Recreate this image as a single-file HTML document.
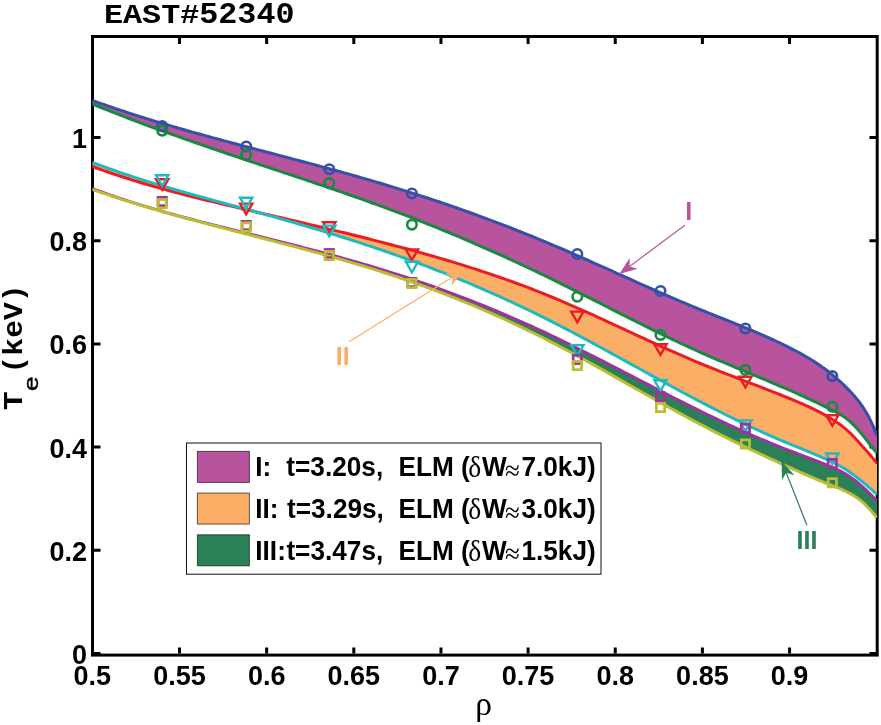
<!DOCTYPE html>
<html><head><meta charset="utf-8"><title>EAST#52340 Te profiles</title><style>html,body{margin:0;padding:0;background:#fff;overflow:hidden}svg{display:block}</style></head><body>
<svg width="881" height="725" viewBox="0 0 881 725">
<rect width="881" height="725" fill="#fff"/>
<path d="M179.50,35 V44 M179.50,653.6 V647.4 M266.65,35 V44 M266.65,653.6 V647.4 M353.80,35 V44 M353.80,653.6 V647.4 M440.95,35 V44 M440.95,653.6 V647.4 M528.10,35 V44 M528.10,653.6 V647.4 M615.25,35 V44 M615.25,653.6 V647.4 M702.40,35 V44 M702.40,653.6 V647.4 M789.55,35 V44 M789.55,653.6 V647.4 M91,653.60 H100.5 M878,653.60 H869.5 M91,550.36 H100.5 M878,550.36 H869.5 M91,447.12 H100.5 M878,447.12 H869.5 M91,343.88 H100.5 M878,343.88 H869.5 M91,240.64 H100.5 M878,240.64 H869.5 M91,137.40 H100.5 M878,137.40 H869.5" stroke="#000" stroke-width="3" fill="none"/>
<rect x="92.5" y="36.5" width="784.7" height="618.6" fill="none" stroke="#000" stroke-width="3"/>
<defs><clipPath id="ax"><rect x="92.35" y="30" width="785.0" height="630"/></clipPath></defs>
<g clip-path="url(#ax)">
<polygon points="92.35,100.42 96.35,101.86 100.35,103.29 104.35,104.71 108.35,106.10 112.35,107.48 116.35,108.84 120.35,110.18 124.35,111.51 128.35,112.82 132.35,114.11 136.35,115.40 140.35,116.67 144.35,117.92 148.35,119.16 152.35,120.39 156.35,121.60 160.35,122.81 164.35,124.00 168.35,125.18 172.35,126.35 176.35,127.52 180.35,128.67 184.35,129.81 188.35,130.94 192.35,132.07 196.35,133.19 200.35,134.30 204.35,135.40 208.35,136.50 212.35,137.59 216.35,138.67 220.35,139.75 224.35,140.83 228.35,141.90 232.35,142.97 236.35,144.04 240.35,145.10 244.35,146.16 248.35,147.21 252.35,148.27 256.35,149.33 260.35,150.38 264.35,151.44 268.35,152.49 272.35,153.54 276.35,154.60 280.35,155.65 284.35,156.71 288.35,157.77 292.35,158.83 296.35,159.89 300.35,160.96 304.35,162.03 308.35,163.10 312.35,164.17 316.35,165.25 320.35,166.33 324.35,167.42 328.35,168.51 332.35,169.61 336.35,170.71 340.35,171.82 344.35,172.93 348.35,174.05 352.35,175.18 356.35,176.31 360.35,177.46 364.35,178.60 368.35,179.76 372.35,180.93 376.35,182.10 380.35,183.29 384.35,184.48 388.35,185.68 392.35,186.89 396.35,188.12 400.35,189.35 404.35,190.59 408.35,191.85 412.35,193.11 416.35,194.39 420.35,195.68 424.35,196.98 428.35,198.29 432.35,199.61 436.35,200.95 440.35,202.29 444.35,203.65 448.35,205.02 452.35,206.40 456.35,207.79 460.35,209.19 464.35,210.61 468.35,212.03 472.35,213.47 476.35,214.92 480.35,216.38 484.35,217.86 488.35,219.34 492.35,220.84 496.35,222.35 500.35,223.88 504.35,225.41 508.35,226.96 512.35,228.52 516.35,230.10 520.35,231.68 524.35,233.28 528.35,234.89 532.35,236.51 536.35,238.15 540.35,239.80 544.35,241.46 548.35,243.14 552.35,244.83 556.35,246.53 560.35,248.24 564.35,249.96 568.35,251.70 572.35,253.44 576.35,255.19 580.35,256.95 584.35,258.72 588.35,260.49 592.35,262.27 596.35,264.06 600.35,265.84 604.35,267.64 608.35,269.43 612.35,271.23 616.35,273.02 620.35,274.82 624.35,276.62 628.35,278.41 632.35,280.21 636.35,282.00 640.35,283.78 644.35,285.57 648.35,287.34 652.35,289.12 656.35,290.88 660.35,292.64 664.35,294.39 668.35,296.13 672.35,297.86 676.35,299.58 680.35,301.28 684.35,302.98 688.35,304.66 692.35,306.33 696.35,307.99 700.35,309.63 704.35,311.25 708.35,312.87 712.35,314.47 716.35,316.06 720.35,317.66 724.35,319.25 728.35,320.84 732.35,322.44 736.35,324.05 740.35,325.67 744.35,327.30 748.35,328.95 752.35,330.62 756.35,332.32 760.35,334.04 764.35,335.79 768.35,337.57 772.35,339.39 776.35,341.24 780.35,343.14 784.35,345.08 788.35,347.07 792.35,349.11 796.35,351.21 800.00,353.18 801.00,353.74 802.00,354.29 803.00,354.86 804.00,355.43 805.00,356.00 806.00,356.58 807.00,357.17 808.00,357.77 809.00,358.37 810.00,358.98 811.00,359.59 812.00,360.21 813.00,360.84 814.00,361.48 815.00,362.13 816.00,362.78 817.00,363.44 818.00,364.11 819.00,364.79 820.00,365.48 821.00,366.18 822.00,366.88 823.00,367.60 824.00,368.32 825.00,369.06 826.00,369.80 827.00,370.56 828.00,371.32 829.00,372.10 830.00,372.89 831.00,373.68 832.00,374.49 833.00,375.31 834.00,376.15 835.00,376.99 836.00,377.84 837.00,378.71 838.00,379.59 839.00,380.49 840.00,381.39 841.00,382.31 842.00,383.24 843.00,384.19 844.00,385.15 845.00,386.12 846.00,387.11 847.00,388.11 848.00,389.13 849.00,390.16 850.00,391.21 851.00,392.27 852.00,393.35 853.00,394.45 854.00,395.57 855.00,396.73 856.00,397.91 857.00,399.13 858.00,400.38 859.00,401.67 860.00,403.01 861.00,404.39 862.00,405.82 863.00,407.30 864.00,408.84 865.00,410.43 866.00,412.09 867.00,413.81 868.00,415.60 869.00,417.47 870.00,419.41 871.00,421.45 872.00,423.58 873.00,425.80 874.00,428.13 875.00,430.57 876.00,433.13 877.00,435.80 877.00,452.88 876.00,451.79 875.00,450.66 874.00,449.48 873.00,448.28 872.00,447.04 871.00,445.79 870.00,444.52 869.00,443.23 868.00,441.95 867.00,440.66 866.00,439.38 865.00,438.11 864.00,436.85 863.00,435.61 862.00,434.39 861.00,433.18 860.00,431.99 859.00,430.83 858.00,429.69 857.00,428.57 856.00,427.48 855.00,426.41 854.00,425.38 853.00,424.38 852.00,423.40 851.00,422.47 850.00,421.57 849.00,420.70 848.00,419.87 847.00,419.08 846.00,418.31 845.00,417.58 844.00,416.88 843.00,416.20 842.00,415.54 841.00,414.91 840.00,414.30 839.00,413.71 838.00,413.14 837.00,412.58 836.00,412.04 835.00,411.51 834.00,410.99 833.00,410.48 832.00,409.98 831.00,409.48 830.00,408.99 829.00,408.49 828.00,408.00 827.00,407.51 826.00,407.03 825.00,406.54 824.00,406.06 823.00,405.57 822.00,405.09 821.00,404.61 820.00,404.13 819.00,403.66 818.00,403.18 817.00,402.71 816.00,402.24 815.00,401.77 814.00,401.30 813.00,400.83 812.00,400.37 811.00,399.90 810.00,399.44 809.00,398.98 808.00,398.52 807.00,398.06 806.00,397.60 805.00,397.14 804.00,396.69 803.00,396.23 802.00,395.78 801.00,395.33 800.00,394.88 796.35,393.25 792.35,391.47 788.35,389.72 784.35,387.98 780.35,386.26 776.35,384.55 772.35,382.85 768.35,381.16 764.35,379.47 760.35,377.80 756.35,376.13 752.35,374.46 748.35,372.79 744.35,371.12 740.35,369.46 736.35,367.78 732.35,366.10 728.35,364.42 724.35,362.73 720.35,361.02 716.35,359.31 712.35,357.58 708.35,355.84 704.35,354.07 700.35,352.30 696.35,350.50 692.35,348.68 688.35,346.84 684.35,344.99 680.35,343.12 676.35,341.23 672.35,339.33 668.35,337.41 664.35,335.48 660.35,333.54 656.35,331.58 652.35,329.62 648.35,327.64 644.35,325.66 640.35,323.67 636.35,321.67 632.35,319.66 628.35,317.65 624.35,315.63 620.35,313.61 616.35,311.58 612.35,309.55 608.35,307.52 604.35,305.49 600.35,303.46 596.35,301.43 592.35,299.40 588.35,297.38 584.35,295.36 580.35,293.34 576.35,291.33 572.35,289.32 568.35,287.32 564.35,285.33 560.35,283.35 556.35,281.37 552.35,279.41 548.35,277.46 544.35,275.52 540.35,273.59 536.35,271.67 532.35,269.76 528.35,267.87 524.35,265.99 520.35,264.11 516.35,262.25 512.35,260.40 508.35,258.57 504.35,256.74 500.35,254.93 496.35,253.13 492.35,251.34 488.35,249.56 484.35,247.79 480.35,246.03 476.35,244.29 472.35,242.56 468.35,240.84 464.35,239.13 460.35,237.43 456.35,235.74 452.35,234.07 448.35,232.40 444.35,230.75 440.35,229.11 436.35,227.48 432.35,225.87 428.35,224.26 424.35,222.67 420.35,221.09 416.35,219.52 412.35,217.96 408.35,216.41 404.35,214.87 400.35,213.35 396.35,211.84 392.35,210.34 388.35,208.85 384.35,207.37 380.35,205.90 376.35,204.44 372.35,202.99 368.35,201.55 364.35,200.11 360.35,198.69 356.35,197.27 352.35,195.86 348.35,194.46 344.35,193.07 340.35,191.68 336.35,190.30 332.35,188.92 328.35,187.55 324.35,186.19 320.35,184.83 316.35,183.47 312.35,182.12 308.35,180.77 304.35,179.42 300.35,178.08 296.35,176.74 292.35,175.40 288.35,174.06 284.35,172.73 280.35,171.40 276.35,170.06 272.35,168.73 268.35,167.40 264.35,166.06 260.35,164.73 256.35,163.39 252.35,162.06 248.35,160.72 244.35,159.38 240.35,158.03 236.35,156.69 232.35,155.34 228.35,153.98 224.35,152.63 220.35,151.27 216.35,149.90 212.35,148.53 208.35,147.16 204.35,145.78 200.35,144.40 196.35,143.01 192.35,141.61 188.35,140.21 184.35,138.80 180.35,137.39 176.35,135.96 172.35,134.53 168.35,133.10 164.35,131.65 160.35,130.20 156.35,128.74 152.35,127.27 148.35,125.79 144.35,124.30 140.35,122.80 136.35,121.30 132.35,119.78 128.35,118.25 124.35,116.71 120.35,115.16 116.35,113.60 112.35,112.03 108.35,110.44 104.35,108.85 100.35,107.24 96.35,105.62 92.35,103.98" fill="#B8549E" stroke="none"/>
<polygon points="92.35,166.50 96.35,167.97 100.35,169.41 104.35,170.82 108.35,172.21 112.35,173.58 116.35,174.92 120.35,176.24 124.35,177.53 128.35,178.80 132.35,180.06 136.35,181.29 140.35,182.50 144.35,183.69 148.35,184.86 152.35,186.01 156.35,187.15 160.35,188.27 164.35,189.38 168.35,190.47 172.35,191.54 176.35,192.60 180.35,193.65 184.35,194.69 188.35,195.71 192.35,196.73 196.35,197.73 200.35,198.72 204.35,199.71 208.35,200.68 212.35,201.65 216.35,202.61 220.35,203.57 224.35,204.52 228.35,205.46 232.35,206.40 236.35,207.34 240.35,208.27 244.35,209.20 248.35,210.14 252.35,211.07 256.35,211.99 260.35,212.92 264.35,213.85 268.35,214.78 272.35,215.71 276.35,216.65 280.35,217.58 284.35,218.51 288.35,219.45 292.35,220.38 296.35,221.32 300.35,222.26 304.35,223.21 308.35,224.15 312.35,225.10 316.35,226.05 320.35,227.01 324.35,227.97 328.35,228.93 332.35,229.90 336.35,230.87 340.35,231.84 344.35,232.82 348.35,233.81 352.35,234.80 356.35,235.79 360.35,236.79 364.35,237.80 368.35,238.81 372.35,239.83 376.35,240.86 380.35,241.89 384.35,242.93 388.35,243.97 392.35,245.02 396.35,246.09 400.35,247.15 404.35,248.23 408.35,249.32 412.35,250.41 416.35,251.51 420.35,252.63 424.35,253.75 428.35,254.88 432.35,256.03 436.35,257.18 440.35,258.35 444.35,259.53 448.35,260.72 452.35,261.92 456.35,263.14 460.35,264.37 464.35,265.61 468.35,266.87 472.35,268.14 476.35,269.43 480.35,270.73 484.35,272.05 488.35,273.39 492.35,274.74 496.35,276.11 500.35,277.49 504.35,278.90 508.35,280.32 512.35,281.76 516.35,283.22 520.35,284.69 524.35,286.19 528.35,287.71 532.35,289.25 536.35,290.81 540.35,292.39 544.35,293.99 548.35,295.61 552.35,297.26 556.35,298.92 560.35,300.61 564.35,302.32 568.35,304.05 572.35,305.79 576.35,307.55 580.35,309.32 584.35,311.11 588.35,312.91 592.35,314.72 596.35,316.54 600.35,318.37 604.35,320.20 608.35,322.05 612.35,323.89 616.35,325.75 620.35,327.60 624.35,329.46 628.35,331.32 632.35,333.17 636.35,335.03 640.35,336.88 644.35,338.73 648.35,340.57 652.35,342.41 656.35,344.23 660.35,346.05 664.35,347.86 668.35,349.66 672.35,351.45 676.35,353.22 680.35,354.97 684.35,356.71 688.35,358.44 692.35,360.14 696.35,361.83 700.35,363.49 704.35,365.14 708.35,366.76 712.35,368.37 716.35,369.96 720.35,371.53 724.35,373.10 728.35,374.65 732.35,376.19 736.35,377.73 740.35,379.27 744.35,380.80 748.35,382.33 752.35,383.86 756.35,385.39 760.35,386.93 764.35,388.48 768.35,390.03 772.35,391.59 776.35,393.17 780.35,394.76 784.35,396.37 788.35,397.99 792.35,399.64 796.35,401.31 800.00,402.87 801.00,403.30 802.00,403.74 803.00,404.18 804.00,404.62 805.00,405.07 806.00,405.52 807.00,405.98 808.00,406.44 809.00,406.90 810.00,407.37 811.00,407.84 812.00,408.32 813.00,408.81 814.00,409.29 815.00,409.79 816.00,410.29 817.00,410.79 818.00,411.31 819.00,411.82 820.00,412.35 821.00,412.88 822.00,413.42 823.00,413.96 824.00,414.51 825.00,415.07 826.00,415.63 827.00,416.21 828.00,416.79 829.00,417.38 830.00,417.97 831.00,418.58 832.00,419.19 833.00,419.82 834.00,420.45 835.00,421.10 836.00,421.76 837.00,422.44 838.00,423.13 839.00,423.83 840.00,424.56 841.00,425.30 842.00,426.06 843.00,426.84 844.00,427.64 845.00,428.46 846.00,429.31 847.00,430.18 848.00,431.08 849.00,432.00 850.00,432.94 851.00,433.92 852.00,434.92 853.00,435.95 854.00,436.99 855.00,438.05 856.00,439.14 857.00,440.23 858.00,441.34 859.00,442.45 860.00,443.58 861.00,444.70 862.00,445.84 863.00,446.97 864.00,448.10 865.00,449.22 866.00,450.34 867.00,451.46 868.00,452.57 869.00,453.68 870.00,454.81 871.00,455.96 872.00,457.14 873.00,458.35 874.00,459.59 875.00,460.89 876.00,462.24 877.00,463.66 877.00,494.80 876.00,493.77 875.00,492.78 874.00,491.82 873.00,490.88 872.00,489.97 871.00,489.07 870.00,488.20 869.00,487.33 868.00,486.48 867.00,485.64 866.00,484.80 865.00,483.96 864.00,483.13 863.00,482.29 862.00,481.47 861.00,480.64 860.00,479.83 859.00,479.02 858.00,478.22 857.00,477.43 856.00,476.65 855.00,475.88 854.00,475.12 853.00,474.37 852.00,473.64 851.00,472.93 850.00,472.23 849.00,471.54 848.00,470.88 847.00,470.23 846.00,469.59 845.00,468.97 844.00,468.36 843.00,467.77 842.00,467.19 841.00,466.62 840.00,466.06 839.00,465.52 838.00,464.98 837.00,464.46 836.00,463.94 835.00,463.43 834.00,462.93 833.00,462.43 832.00,461.95 831.00,461.46 830.00,460.99 829.00,460.52 828.00,460.05 827.00,459.59 826.00,459.13 825.00,458.67 824.00,458.22 823.00,457.78 822.00,457.33 821.00,456.89 820.00,456.46 819.00,456.02 818.00,455.59 817.00,455.16 816.00,454.74 815.00,454.32 814.00,453.90 813.00,453.48 812.00,453.06 811.00,452.65 810.00,452.24 809.00,451.83 808.00,451.42 807.00,451.01 806.00,450.60 805.00,450.19 804.00,449.79 803.00,449.38 802.00,448.98 801.00,448.58 800.00,448.17 796.35,446.70 792.35,445.07 788.35,443.42 784.35,441.75 780.35,440.06 776.35,438.34 772.35,436.59 768.35,434.83 764.35,433.04 760.35,431.22 756.35,429.39 752.35,427.54 748.35,425.66 744.35,423.76 740.35,421.85 736.35,419.91 732.35,417.96 728.35,415.99 724.35,414.00 720.35,412.00 716.35,409.97 712.35,407.93 708.35,405.88 704.35,403.81 700.35,401.73 696.35,399.63 692.35,397.52 688.35,395.39 684.35,393.26 680.35,391.11 676.35,388.96 672.35,386.79 668.35,384.62 664.35,382.44 660.35,380.25 656.35,378.06 652.35,375.87 648.35,373.66 644.35,371.46 640.35,369.25 636.35,367.05 632.35,364.84 628.35,362.63 624.35,360.43 620.35,358.22 616.35,356.02 612.35,353.82 608.35,351.63 604.35,349.44 600.35,347.26 596.35,345.08 592.35,342.92 588.35,340.76 584.35,338.61 580.35,336.47 576.35,334.35 572.35,332.23 568.35,330.13 564.35,328.05 560.35,325.98 556.35,323.92 552.35,321.88 548.35,319.86 544.35,317.85 540.35,315.86 536.35,313.89 532.35,311.94 528.35,310.01 524.35,308.09 520.35,306.19 516.35,304.30 512.35,302.44 508.35,300.59 504.35,298.75 500.35,296.94 496.35,295.14 492.35,293.35 488.35,291.58 484.35,289.83 480.35,288.10 476.35,286.38 472.35,284.67 468.35,282.98 464.35,281.31 460.35,279.65 456.35,278.01 452.35,276.39 448.35,274.77 444.35,273.18 440.35,271.60 436.35,270.03 432.35,268.48 428.35,266.94 424.35,265.42 420.35,263.91 416.35,262.42 412.35,260.94 408.35,259.47 404.35,258.02 400.35,256.58 396.35,255.16 392.35,253.75 388.35,252.35 384.35,250.96 380.35,249.59 376.35,248.23 372.35,246.89 368.35,245.55 364.35,244.23 360.35,242.92 356.35,241.62 352.35,240.33 348.35,239.05 344.35,237.78 340.35,236.52 336.35,235.27 332.35,234.03 328.35,232.80 324.35,231.58 320.35,230.37 316.35,229.17 312.35,227.97 308.35,226.79 304.35,225.61 300.35,224.44 296.35,223.27 292.35,222.12 288.35,220.97 284.35,219.82 280.35,218.69 276.35,217.55 272.35,216.43 268.35,215.31 264.35,214.19 260.35,213.08 256.35,211.98 252.35,210.88 248.35,209.78 244.35,208.69 240.35,207.60 236.35,206.51 232.35,205.43 228.35,204.34 224.35,203.26 220.35,202.17 216.35,201.08 212.35,199.99 208.35,198.90 204.35,197.80 200.35,196.70 196.35,195.60 192.35,194.48 188.35,193.36 184.35,192.24 180.35,191.10 176.35,189.96 172.35,188.80 168.35,187.64 164.35,186.46 160.35,185.27 156.35,184.07 152.35,182.85 148.35,181.62 144.35,180.38 140.35,179.12 136.35,177.84 132.35,176.55 128.35,175.23 124.35,173.90 120.35,172.55 116.35,171.17 112.35,169.78 108.35,168.37 104.35,166.93 100.35,165.46 96.35,163.98 92.35,162.47" fill="#FBAF66" stroke="none"/>
<polygon points="92.35,188.57 96.35,190.06 100.35,191.53 104.35,192.96 108.35,194.38 112.35,195.76 116.35,197.13 120.35,198.47 124.35,199.79 128.35,201.09 132.35,202.37 136.35,203.63 140.35,204.87 144.35,206.09 148.35,207.29 152.35,208.48 156.35,209.65 160.35,210.81 164.35,211.95 168.35,213.07 172.35,214.18 176.35,215.28 180.35,216.37 184.35,217.45 188.35,218.51 192.35,219.57 196.35,220.62 200.35,221.65 204.35,222.68 208.35,223.71 212.35,224.72 216.35,225.74 220.35,226.74 224.35,227.74 228.35,228.74 232.35,229.74 236.35,230.73 240.35,231.72 244.35,232.71 248.35,233.71 252.35,234.70 256.35,235.69 260.35,236.68 264.35,237.68 268.35,238.68 272.35,239.68 276.35,240.69 280.35,241.69 284.35,242.71 288.35,243.72 292.35,244.74 296.35,245.77 300.35,246.80 304.35,247.84 308.35,248.88 312.35,249.93 316.35,250.98 320.35,252.05 324.35,253.12 328.35,254.20 332.35,255.29 336.35,256.38 340.35,257.49 344.35,258.60 348.35,259.73 352.35,260.86 356.35,262.01 360.35,263.16 364.35,264.33 368.35,265.51 372.35,266.70 376.35,267.90 380.35,269.12 384.35,270.35 388.35,271.60 392.35,272.85 396.35,274.13 400.35,275.41 404.35,276.71 408.35,278.03 412.35,279.36 416.35,280.71 420.35,282.08 424.35,283.45 428.35,284.85 432.35,286.26 436.35,287.68 440.35,289.12 444.35,290.58 448.35,292.05 452.35,293.54 456.35,295.04 460.35,296.56 464.35,298.10 468.35,299.65 472.35,301.21 476.35,302.80 480.35,304.40 484.35,306.01 488.35,307.64 492.35,309.29 496.35,310.96 500.35,312.64 504.35,314.34 508.35,316.05 512.35,317.78 516.35,319.53 520.35,321.29 524.35,323.07 528.35,324.87 532.35,326.68 536.35,328.51 540.35,330.36 544.35,332.22 548.35,334.11 552.35,336.01 556.35,337.92 560.35,339.85 564.35,341.80 568.35,343.76 572.35,345.73 576.35,347.72 580.35,349.72 584.35,351.73 588.35,353.75 592.35,355.77 596.35,357.81 600.35,359.86 604.35,361.91 608.35,363.97 612.35,366.03 616.35,368.10 620.35,370.17 624.35,372.24 628.35,374.32 632.35,376.39 636.35,378.47 640.35,380.55 644.35,382.62 648.35,384.70 652.35,386.77 656.35,388.83 660.35,390.90 664.35,392.95 668.35,395.00 672.35,397.05 676.35,399.08 680.35,401.11 684.35,403.13 688.35,405.14 692.35,407.13 696.35,409.12 700.35,411.09 704.35,413.05 708.35,415.00 712.35,416.93 716.35,418.84 720.35,420.74 724.35,422.63 728.35,424.49 732.35,426.35 736.35,428.18 740.35,429.99 744.35,431.79 748.35,433.57 752.35,435.33 756.35,437.07 760.35,438.78 764.35,440.48 768.35,442.16 772.35,443.81 776.35,445.44 780.35,447.05 784.35,448.63 788.35,450.19 792.35,451.73 796.35,453.25 800.00,454.62 801.00,454.99 802.00,455.37 803.00,455.74 804.00,456.12 805.00,456.49 806.00,456.87 807.00,457.25 808.00,457.62 809.00,458.00 810.00,458.38 811.00,458.76 812.00,459.14 813.00,459.52 814.00,459.90 815.00,460.29 816.00,460.67 817.00,461.06 818.00,461.45 819.00,461.84 820.00,462.23 821.00,462.63 822.00,463.03 823.00,463.43 824.00,463.83 825.00,464.24 826.00,464.65 827.00,465.06 828.00,465.47 829.00,465.89 830.00,466.31 831.00,466.74 832.00,467.17 833.00,467.60 834.00,468.04 835.00,468.49 836.00,468.95 837.00,469.41 838.00,469.89 839.00,470.38 840.00,470.88 841.00,471.39 842.00,471.92 843.00,472.46 844.00,473.01 845.00,473.59 846.00,474.18 847.00,474.79 848.00,475.42 849.00,476.07 850.00,476.74 851.00,477.43 852.00,478.15 853.00,478.88 854.00,479.64 855.00,480.41 856.00,481.21 857.00,482.02 858.00,482.84 859.00,483.69 860.00,484.55 861.00,485.42 862.00,486.31 863.00,487.21 864.00,488.12 865.00,489.04 866.00,489.97 867.00,490.92 868.00,491.87 869.00,492.83 870.00,493.81 871.00,494.79 872.00,495.79 873.00,496.81 874.00,497.83 875.00,498.87 876.00,499.93 877.00,501.00 877.00,517.60 876.00,516.48 875.00,515.34 874.00,514.19 873.00,513.04 872.00,511.89 871.00,510.74 870.00,509.61 869.00,508.50 868.00,507.41 867.00,506.35 866.00,505.33 865.00,504.35 864.00,503.41 863.00,502.51 862.00,501.64 861.00,500.81 860.00,500.01 859.00,499.24 858.00,498.51 857.00,497.80 856.00,497.12 855.00,496.47 854.00,495.84 853.00,495.23 852.00,494.65 851.00,494.08 850.00,493.53 849.00,493.00 848.00,492.49 847.00,491.98 846.00,491.49 845.00,491.02 844.00,490.55 843.00,490.10 842.00,489.65 841.00,489.22 840.00,488.79 839.00,488.37 838.00,487.96 837.00,487.55 836.00,487.14 835.00,486.74 834.00,486.35 833.00,485.95 832.00,485.55 831.00,485.16 830.00,484.76 829.00,484.36 828.00,483.96 827.00,483.56 826.00,483.15 825.00,482.75 824.00,482.34 823.00,481.93 822.00,481.52 821.00,481.10 820.00,480.69 819.00,480.27 818.00,479.85 817.00,479.43 816.00,479.01 815.00,478.59 814.00,478.16 813.00,477.74 812.00,477.31 811.00,476.88 810.00,476.45 809.00,476.02 808.00,475.59 807.00,475.15 806.00,474.72 805.00,474.28 804.00,473.85 803.00,473.41 802.00,472.97 801.00,472.53 800.00,472.09 796.35,470.47 792.35,468.69 788.35,466.89 784.35,465.09 780.35,463.27 776.35,461.45 772.35,459.62 768.35,457.77 764.35,455.92 760.35,454.05 756.35,452.17 752.35,450.28 748.35,448.37 744.35,446.46 740.35,444.52 736.35,442.58 732.35,440.62 728.35,438.64 724.35,436.65 720.35,434.64 716.35,432.62 712.35,430.57 708.35,428.52 704.35,426.44 700.35,424.34 696.35,422.23 692.35,420.10 688.35,417.95 684.35,415.79 680.35,413.61 676.35,411.42 672.35,409.22 668.35,407.00 664.35,404.78 660.35,402.54 656.35,400.30 652.35,398.05 648.35,395.79 644.35,393.53 640.35,391.27 636.35,389.00 632.35,386.73 628.35,384.46 624.35,382.19 620.35,379.92 616.35,377.66 612.35,375.39 608.35,373.14 604.35,370.88 600.35,368.64 596.35,366.40 592.35,364.17 588.35,361.95 584.35,359.74 580.35,357.55 576.35,355.37 572.35,353.20 568.35,351.04 564.35,348.91 560.35,346.79 556.35,344.68 552.35,342.60 548.35,340.54 544.35,338.50 540.35,336.48 536.35,334.48 532.35,332.50 528.35,330.54 524.35,328.61 520.35,326.69 516.35,324.79 512.35,322.91 508.35,321.06 504.35,319.22 500.35,317.40 496.35,315.61 492.35,313.83 488.35,312.07 484.35,310.33 480.35,308.61 476.35,306.91 472.35,305.22 468.35,303.56 464.35,301.92 460.35,300.29 456.35,298.68 452.35,297.09 448.35,295.52 444.35,293.96 440.35,292.43 436.35,290.91 432.35,289.41 428.35,287.93 424.35,286.46 420.35,285.01 416.35,283.58 412.35,282.17 408.35,280.77 404.35,279.39 400.35,278.02 396.35,276.68 392.35,275.35 388.35,274.03 384.35,272.73 380.35,271.44 376.35,270.17 372.35,268.92 368.35,267.67 364.35,266.44 360.35,265.22 356.35,264.02 352.35,262.83 348.35,261.64 344.35,260.47 340.35,259.31 336.35,258.16 332.35,257.02 328.35,255.89 324.35,254.77 320.35,253.66 316.35,252.55 312.35,251.45 308.35,250.36 304.35,249.28 300.35,248.20 296.35,247.13 292.35,246.06 288.35,245.00 284.35,243.94 280.35,242.89 276.35,241.84 272.35,240.80 268.35,239.76 264.35,238.72 260.35,237.68 256.35,236.64 252.35,235.61 248.35,234.57 244.35,233.54 240.35,232.51 236.35,231.47 232.35,230.44 228.35,229.40 224.35,228.36 220.35,227.32 216.35,226.27 212.35,225.22 208.35,224.17 204.35,223.11 200.35,222.05 196.35,220.98 192.35,219.90 188.35,218.82 184.35,217.73 180.35,216.63 176.35,215.52 172.35,214.41 168.35,213.28 164.35,212.15 160.35,211.00 156.35,209.85 152.35,208.68 148.35,207.50 144.35,206.31 140.35,205.10 136.35,203.88 132.35,202.65 128.35,201.40 124.35,200.14 120.35,198.86 116.35,197.57 112.35,196.26 108.35,194.93 104.35,193.58 100.35,192.22 96.35,190.84 92.35,189.44" fill="#2B8157" stroke="none"/>
<polyline points="92.35,100.42 96.35,101.86 100.35,103.29 104.35,104.71 108.35,106.10 112.35,107.48 116.35,108.84 120.35,110.18 124.35,111.51 128.35,112.82 132.35,114.11 136.35,115.40 140.35,116.67 144.35,117.92 148.35,119.16 152.35,120.39 156.35,121.60 160.35,122.81 164.35,124.00 168.35,125.18 172.35,126.35 176.35,127.52 180.35,128.67 184.35,129.81 188.35,130.94 192.35,132.07 196.35,133.19 200.35,134.30 204.35,135.40 208.35,136.50 212.35,137.59 216.35,138.67 220.35,139.75 224.35,140.83 228.35,141.90 232.35,142.97 236.35,144.04 240.35,145.10 244.35,146.16 248.35,147.21 252.35,148.27 256.35,149.33 260.35,150.38 264.35,151.44 268.35,152.49 272.35,153.54 276.35,154.60 280.35,155.65 284.35,156.71 288.35,157.77 292.35,158.83 296.35,159.89 300.35,160.96 304.35,162.03 308.35,163.10 312.35,164.17 316.35,165.25 320.35,166.33 324.35,167.42 328.35,168.51 332.35,169.61 336.35,170.71 340.35,171.82 344.35,172.93 348.35,174.05 352.35,175.18 356.35,176.31 360.35,177.46 364.35,178.60 368.35,179.76 372.35,180.93 376.35,182.10 380.35,183.29 384.35,184.48 388.35,185.68 392.35,186.89 396.35,188.12 400.35,189.35 404.35,190.59 408.35,191.85 412.35,193.11 416.35,194.39 420.35,195.68 424.35,196.98 428.35,198.29 432.35,199.61 436.35,200.95 440.35,202.29 444.35,203.65 448.35,205.02 452.35,206.40 456.35,207.79 460.35,209.19 464.35,210.61 468.35,212.03 472.35,213.47 476.35,214.92 480.35,216.38 484.35,217.86 488.35,219.34 492.35,220.84 496.35,222.35 500.35,223.88 504.35,225.41 508.35,226.96 512.35,228.52 516.35,230.10 520.35,231.68 524.35,233.28 528.35,234.89 532.35,236.51 536.35,238.15 540.35,239.80 544.35,241.46 548.35,243.14 552.35,244.83 556.35,246.53 560.35,248.24 564.35,249.96 568.35,251.70 572.35,253.44 576.35,255.19 580.35,256.95 584.35,258.72 588.35,260.49 592.35,262.27 596.35,264.06 600.35,265.84 604.35,267.64 608.35,269.43 612.35,271.23 616.35,273.02 620.35,274.82 624.35,276.62 628.35,278.41 632.35,280.21 636.35,282.00 640.35,283.78 644.35,285.57 648.35,287.34 652.35,289.12 656.35,290.88 660.35,292.64 664.35,294.39 668.35,296.13 672.35,297.86 676.35,299.58 680.35,301.28 684.35,302.98 688.35,304.66 692.35,306.33 696.35,307.99 700.35,309.63 704.35,311.25 708.35,312.87 712.35,314.47 716.35,316.06 720.35,317.66 724.35,319.25 728.35,320.84 732.35,322.44 736.35,324.05 740.35,325.67 744.35,327.30 748.35,328.95 752.35,330.62 756.35,332.32 760.35,334.04 764.35,335.79 768.35,337.57 772.35,339.39 776.35,341.24 780.35,343.14 784.35,345.08 788.35,347.07 792.35,349.11 796.35,351.21 800.00,353.18 801.00,353.74 802.00,354.29 803.00,354.86 804.00,355.43 805.00,356.00 806.00,356.58 807.00,357.17 808.00,357.77 809.00,358.37 810.00,358.98 811.00,359.59 812.00,360.21 813.00,360.84 814.00,361.48 815.00,362.13 816.00,362.78 817.00,363.44 818.00,364.11 819.00,364.79 820.00,365.48 821.00,366.18 822.00,366.88 823.00,367.60 824.00,368.32 825.00,369.06 826.00,369.80 827.00,370.56 828.00,371.32 829.00,372.10 830.00,372.89 831.00,373.68 832.00,374.49 833.00,375.31 834.00,376.15 835.00,376.99 836.00,377.84 837.00,378.71 838.00,379.59 839.00,380.49 840.00,381.39 841.00,382.31 842.00,383.24 843.00,384.19 844.00,385.15 845.00,386.12 846.00,387.11 847.00,388.11 848.00,389.13 849.00,390.16 850.00,391.21 851.00,392.27 852.00,393.35 853.00,394.45 854.00,395.57 855.00,396.73 856.00,397.91 857.00,399.13 858.00,400.38 859.00,401.67 860.00,403.01 861.00,404.39 862.00,405.82 863.00,407.30 864.00,408.84 865.00,410.43 866.00,412.09 867.00,413.81 868.00,415.60 869.00,417.47 870.00,419.41 871.00,421.45 872.00,423.58 873.00,425.80 874.00,428.13 875.00,430.57 876.00,433.13 877.00,435.80" fill="none" stroke="#3550A8" stroke-width="3" stroke-linejoin="round"/>
<polyline points="92.35,103.98 96.35,105.62 100.35,107.24 104.35,108.85 108.35,110.44 112.35,112.03 116.35,113.60 120.35,115.16 124.35,116.71 128.35,118.25 132.35,119.78 136.35,121.30 140.35,122.80 144.35,124.30 148.35,125.79 152.35,127.27 156.35,128.74 160.35,130.20 164.35,131.65 168.35,133.10 172.35,134.53 176.35,135.96 180.35,137.39 184.35,138.80 188.35,140.21 192.35,141.61 196.35,143.01 200.35,144.40 204.35,145.78 208.35,147.16 212.35,148.53 216.35,149.90 220.35,151.27 224.35,152.63 228.35,153.98 232.35,155.34 236.35,156.69 240.35,158.03 244.35,159.38 248.35,160.72 252.35,162.06 256.35,163.39 260.35,164.73 264.35,166.06 268.35,167.40 272.35,168.73 276.35,170.06 280.35,171.40 284.35,172.73 288.35,174.06 292.35,175.40 296.35,176.74 300.35,178.08 304.35,179.42 308.35,180.77 312.35,182.12 316.35,183.47 320.35,184.83 324.35,186.19 328.35,187.55 332.35,188.92 336.35,190.30 340.35,191.68 344.35,193.07 348.35,194.46 352.35,195.86 356.35,197.27 360.35,198.69 364.35,200.11 368.35,201.55 372.35,202.99 376.35,204.44 380.35,205.90 384.35,207.37 388.35,208.85 392.35,210.34 396.35,211.84 400.35,213.35 404.35,214.87 408.35,216.41 412.35,217.96 416.35,219.52 420.35,221.09 424.35,222.67 428.35,224.26 432.35,225.87 436.35,227.48 440.35,229.11 444.35,230.75 448.35,232.40 452.35,234.07 456.35,235.74 460.35,237.43 464.35,239.13 468.35,240.84 472.35,242.56 476.35,244.29 480.35,246.03 484.35,247.79 488.35,249.56 492.35,251.34 496.35,253.13 500.35,254.93 504.35,256.74 508.35,258.57 512.35,260.40 516.35,262.25 520.35,264.11 524.35,265.99 528.35,267.87 532.35,269.76 536.35,271.67 540.35,273.59 544.35,275.52 548.35,277.46 552.35,279.41 556.35,281.37 560.35,283.35 564.35,285.33 568.35,287.32 572.35,289.32 576.35,291.33 580.35,293.34 584.35,295.36 588.35,297.38 592.35,299.40 596.35,301.43 600.35,303.46 604.35,305.49 608.35,307.52 612.35,309.55 616.35,311.58 620.35,313.61 624.35,315.63 628.35,317.65 632.35,319.66 636.35,321.67 640.35,323.67 644.35,325.66 648.35,327.64 652.35,329.62 656.35,331.58 660.35,333.54 664.35,335.48 668.35,337.41 672.35,339.33 676.35,341.23 680.35,343.12 684.35,344.99 688.35,346.84 692.35,348.68 696.35,350.50 700.35,352.30 704.35,354.07 708.35,355.84 712.35,357.58 716.35,359.31 720.35,361.02 724.35,362.73 728.35,364.42 732.35,366.10 736.35,367.78 740.35,369.46 744.35,371.12 748.35,372.79 752.35,374.46 756.35,376.13 760.35,377.80 764.35,379.47 768.35,381.16 772.35,382.85 776.35,384.55 780.35,386.26 784.35,387.98 788.35,389.72 792.35,391.47 796.35,393.25 800.00,394.88 801.00,395.33 802.00,395.78 803.00,396.23 804.00,396.69 805.00,397.14 806.00,397.60 807.00,398.06 808.00,398.52 809.00,398.98 810.00,399.44 811.00,399.90 812.00,400.37 813.00,400.83 814.00,401.30 815.00,401.77 816.00,402.24 817.00,402.71 818.00,403.18 819.00,403.66 820.00,404.13 821.00,404.61 822.00,405.09 823.00,405.57 824.00,406.06 825.00,406.54 826.00,407.03 827.00,407.51 828.00,408.00 829.00,408.49 830.00,408.99 831.00,409.48 832.00,409.98 833.00,410.48 834.00,410.99 835.00,411.51 836.00,412.04 837.00,412.58 838.00,413.14 839.00,413.71 840.00,414.30 841.00,414.91 842.00,415.54 843.00,416.20 844.00,416.88 845.00,417.58 846.00,418.31 847.00,419.08 848.00,419.87 849.00,420.70 850.00,421.57 851.00,422.47 852.00,423.40 853.00,424.38 854.00,425.38 855.00,426.41 856.00,427.48 857.00,428.57 858.00,429.69 859.00,430.83 860.00,431.99 861.00,433.18 862.00,434.39 863.00,435.61 864.00,436.85 865.00,438.11 866.00,439.38 867.00,440.66 868.00,441.95 869.00,443.23 870.00,444.52 871.00,445.79 872.00,447.04 873.00,448.28 874.00,449.48 875.00,450.66 876.00,451.79 877.00,452.88" fill="none" stroke="#168a3e" stroke-width="3" stroke-linejoin="round"/>
<polyline points="92.35,166.50 96.35,167.97 100.35,169.41 104.35,170.82 108.35,172.21 112.35,173.58 116.35,174.92 120.35,176.24 124.35,177.53 128.35,178.80 132.35,180.06 136.35,181.29 140.35,182.50 144.35,183.69 148.35,184.86 152.35,186.01 156.35,187.15 160.35,188.27 164.35,189.38 168.35,190.47 172.35,191.54 176.35,192.60 180.35,193.65 184.35,194.69 188.35,195.71 192.35,196.73 196.35,197.73 200.35,198.72 204.35,199.71 208.35,200.68 212.35,201.65 216.35,202.61 220.35,203.57 224.35,204.52 228.35,205.46 232.35,206.40 236.35,207.34 240.35,208.27 244.35,209.20 248.35,210.14 252.35,211.07 256.35,211.99 260.35,212.92 264.35,213.85 268.35,214.78 272.35,215.71 276.35,216.65 280.35,217.58 284.35,218.51 288.35,219.45 292.35,220.38 296.35,221.32 300.35,222.26 304.35,223.21 308.35,224.15 312.35,225.10 316.35,226.05 320.35,227.01 324.35,227.97 328.35,228.93 332.35,229.90 336.35,230.87 340.35,231.84 344.35,232.82 348.35,233.81 352.35,234.80 356.35,235.79 360.35,236.79 364.35,237.80 368.35,238.81 372.35,239.83 376.35,240.86 380.35,241.89 384.35,242.93 388.35,243.97 392.35,245.02 396.35,246.09 400.35,247.15 404.35,248.23 408.35,249.32 412.35,250.41 416.35,251.51 420.35,252.63 424.35,253.75 428.35,254.88 432.35,256.03 436.35,257.18 440.35,258.35 444.35,259.53 448.35,260.72 452.35,261.92 456.35,263.14 460.35,264.37 464.35,265.61 468.35,266.87 472.35,268.14 476.35,269.43 480.35,270.73 484.35,272.05 488.35,273.39 492.35,274.74 496.35,276.11 500.35,277.49 504.35,278.90 508.35,280.32 512.35,281.76 516.35,283.22 520.35,284.69 524.35,286.19 528.35,287.71 532.35,289.25 536.35,290.81 540.35,292.39 544.35,293.99 548.35,295.61 552.35,297.26 556.35,298.92 560.35,300.61 564.35,302.32 568.35,304.05 572.35,305.79 576.35,307.55 580.35,309.32 584.35,311.11 588.35,312.91 592.35,314.72 596.35,316.54 600.35,318.37 604.35,320.20 608.35,322.05 612.35,323.89 616.35,325.75 620.35,327.60 624.35,329.46 628.35,331.32 632.35,333.17 636.35,335.03 640.35,336.88 644.35,338.73 648.35,340.57 652.35,342.41 656.35,344.23 660.35,346.05 664.35,347.86 668.35,349.66 672.35,351.45 676.35,353.22 680.35,354.97 684.35,356.71 688.35,358.44 692.35,360.14 696.35,361.83 700.35,363.49 704.35,365.14 708.35,366.76 712.35,368.37 716.35,369.96 720.35,371.53 724.35,373.10 728.35,374.65 732.35,376.19 736.35,377.73 740.35,379.27 744.35,380.80 748.35,382.33 752.35,383.86 756.35,385.39 760.35,386.93 764.35,388.48 768.35,390.03 772.35,391.59 776.35,393.17 780.35,394.76 784.35,396.37 788.35,397.99 792.35,399.64 796.35,401.31 800.00,402.87 801.00,403.30 802.00,403.74 803.00,404.18 804.00,404.62 805.00,405.07 806.00,405.52 807.00,405.98 808.00,406.44 809.00,406.90 810.00,407.37 811.00,407.84 812.00,408.32 813.00,408.81 814.00,409.29 815.00,409.79 816.00,410.29 817.00,410.79 818.00,411.31 819.00,411.82 820.00,412.35 821.00,412.88 822.00,413.42 823.00,413.96 824.00,414.51 825.00,415.07 826.00,415.63 827.00,416.21 828.00,416.79 829.00,417.38 830.00,417.97 831.00,418.58 832.00,419.19 833.00,419.82 834.00,420.45 835.00,421.10 836.00,421.76 837.00,422.44 838.00,423.13 839.00,423.83 840.00,424.56 841.00,425.30 842.00,426.06 843.00,426.84 844.00,427.64 845.00,428.46 846.00,429.31 847.00,430.18 848.00,431.08 849.00,432.00 850.00,432.94 851.00,433.92 852.00,434.92 853.00,435.95 854.00,436.99 855.00,438.05 856.00,439.14 857.00,440.23 858.00,441.34 859.00,442.45 860.00,443.58 861.00,444.70 862.00,445.84 863.00,446.97 864.00,448.10 865.00,449.22 866.00,450.34 867.00,451.46 868.00,452.57 869.00,453.68 870.00,454.81 871.00,455.96 872.00,457.14 873.00,458.35 874.00,459.59 875.00,460.89 876.00,462.24 877.00,463.66" fill="none" stroke="#EC1C24" stroke-width="3" stroke-linejoin="round"/>
<polyline points="92.35,162.47 96.35,163.98 100.35,165.46 104.35,166.93 108.35,168.37 112.35,169.78 116.35,171.17 120.35,172.55 124.35,173.90 128.35,175.23 132.35,176.55 136.35,177.84 140.35,179.12 144.35,180.38 148.35,181.62 152.35,182.85 156.35,184.07 160.35,185.27 164.35,186.46 168.35,187.64 172.35,188.80 176.35,189.96 180.35,191.10 184.35,192.24 188.35,193.36 192.35,194.48 196.35,195.60 200.35,196.70 204.35,197.80 208.35,198.90 212.35,199.99 216.35,201.08 220.35,202.17 224.35,203.26 228.35,204.34 232.35,205.43 236.35,206.51 240.35,207.60 244.35,208.69 248.35,209.78 252.35,210.88 256.35,211.98 260.35,213.08 264.35,214.19 268.35,215.31 272.35,216.43 276.35,217.55 280.35,218.69 284.35,219.82 288.35,220.97 292.35,222.12 296.35,223.27 300.35,224.44 304.35,225.61 308.35,226.79 312.35,227.97 316.35,229.17 320.35,230.37 324.35,231.58 328.35,232.80 332.35,234.03 336.35,235.27 340.35,236.52 344.35,237.78 348.35,239.05 352.35,240.33 356.35,241.62 360.35,242.92 364.35,244.23 368.35,245.55 372.35,246.89 376.35,248.23 380.35,249.59 384.35,250.96 388.35,252.35 392.35,253.75 396.35,255.16 400.35,256.58 404.35,258.02 408.35,259.47 412.35,260.94 416.35,262.42 420.35,263.91 424.35,265.42 428.35,266.94 432.35,268.48 436.35,270.03 440.35,271.60 444.35,273.18 448.35,274.77 452.35,276.39 456.35,278.01 460.35,279.65 464.35,281.31 468.35,282.98 472.35,284.67 476.35,286.38 480.35,288.10 484.35,289.83 488.35,291.58 492.35,293.35 496.35,295.14 500.35,296.94 504.35,298.75 508.35,300.59 512.35,302.44 516.35,304.30 520.35,306.19 524.35,308.09 528.35,310.01 532.35,311.94 536.35,313.89 540.35,315.86 544.35,317.85 548.35,319.86 552.35,321.88 556.35,323.92 560.35,325.98 564.35,328.05 568.35,330.13 572.35,332.23 576.35,334.35 580.35,336.47 584.35,338.61 588.35,340.76 592.35,342.92 596.35,345.08 600.35,347.26 604.35,349.44 608.35,351.63 612.35,353.82 616.35,356.02 620.35,358.22 624.35,360.43 628.35,362.63 632.35,364.84 636.35,367.05 640.35,369.25 644.35,371.46 648.35,373.66 652.35,375.87 656.35,378.06 660.35,380.25 664.35,382.44 668.35,384.62 672.35,386.79 676.35,388.96 680.35,391.11 684.35,393.26 688.35,395.39 692.35,397.52 696.35,399.63 700.35,401.73 704.35,403.81 708.35,405.88 712.35,407.93 716.35,409.97 720.35,412.00 724.35,414.00 728.35,415.99 732.35,417.96 736.35,419.91 740.35,421.85 744.35,423.76 748.35,425.66 752.35,427.54 756.35,429.39 760.35,431.22 764.35,433.04 768.35,434.83 772.35,436.59 776.35,438.34 780.35,440.06 784.35,441.75 788.35,443.42 792.35,445.07 796.35,446.70 800.00,448.17 801.00,448.58 802.00,448.98 803.00,449.38 804.00,449.79 805.00,450.19 806.00,450.60 807.00,451.01 808.00,451.42 809.00,451.83 810.00,452.24 811.00,452.65 812.00,453.06 813.00,453.48 814.00,453.90 815.00,454.32 816.00,454.74 817.00,455.16 818.00,455.59 819.00,456.02 820.00,456.46 821.00,456.89 822.00,457.33 823.00,457.78 824.00,458.22 825.00,458.67 826.00,459.13 827.00,459.59 828.00,460.05 829.00,460.52 830.00,460.99 831.00,461.46 832.00,461.95 833.00,462.43 834.00,462.93 835.00,463.43 836.00,463.94 837.00,464.46 838.00,464.98 839.00,465.52 840.00,466.06 841.00,466.62 842.00,467.19 843.00,467.77 844.00,468.36 845.00,468.97 846.00,469.59 847.00,470.23 848.00,470.88 849.00,471.54 850.00,472.23 851.00,472.93 852.00,473.64 853.00,474.37 854.00,475.12 855.00,475.88 856.00,476.65 857.00,477.43 858.00,478.22 859.00,479.02 860.00,479.83 861.00,480.64 862.00,481.47 863.00,482.29 864.00,483.13 865.00,483.96 866.00,484.80 867.00,485.64 868.00,486.48 869.00,487.33 870.00,488.20 871.00,489.07 872.00,489.97 873.00,490.88 874.00,491.82 875.00,492.78 876.00,493.77 877.00,494.80" fill="none" stroke="#1EBAC0" stroke-width="3" stroke-linejoin="round"/>
<polyline points="92.35,188.57 96.35,190.06 100.35,191.53 104.35,192.96 108.35,194.38 112.35,195.76 116.35,197.13 120.35,198.47 124.35,199.79 128.35,201.09 132.35,202.37 136.35,203.63 140.35,204.87 144.35,206.09 148.35,207.29 152.35,208.48 156.35,209.65 160.35,210.81 164.35,211.95 168.35,213.07 172.35,214.18 176.35,215.28 180.35,216.37 184.35,217.45 188.35,218.51 192.35,219.57 196.35,220.62 200.35,221.65 204.35,222.68 208.35,223.71 212.35,224.72 216.35,225.74 220.35,226.74 224.35,227.74 228.35,228.74 232.35,229.74 236.35,230.73 240.35,231.72 244.35,232.71 248.35,233.71 252.35,234.70 256.35,235.69 260.35,236.68 264.35,237.68 268.35,238.68 272.35,239.68 276.35,240.69 280.35,241.69 284.35,242.71 288.35,243.72 292.35,244.74 296.35,245.77 300.35,246.80 304.35,247.84 308.35,248.88 312.35,249.93 316.35,250.98 320.35,252.05 324.35,253.12 328.35,254.20 332.35,255.29 336.35,256.38 340.35,257.49 344.35,258.60 348.35,259.73 352.35,260.86 356.35,262.01 360.35,263.16 364.35,264.33 368.35,265.51 372.35,266.70 376.35,267.90 380.35,269.12 384.35,270.35 388.35,271.60 392.35,272.85 396.35,274.13 400.35,275.41 404.35,276.71 408.35,278.03 412.35,279.36 416.35,280.71 420.35,282.08 424.35,283.45 428.35,284.85 432.35,286.26 436.35,287.68 440.35,289.12 444.35,290.58 448.35,292.05 452.35,293.54 456.35,295.04 460.35,296.56 464.35,298.10 468.35,299.65 472.35,301.21 476.35,302.80 480.35,304.40 484.35,306.01 488.35,307.64 492.35,309.29 496.35,310.96 500.35,312.64 504.35,314.34 508.35,316.05 512.35,317.78 516.35,319.53 520.35,321.29 524.35,323.07 528.35,324.87 532.35,326.68 536.35,328.51 540.35,330.36 544.35,332.22 548.35,334.11 552.35,336.01 556.35,337.92 560.35,339.85 564.35,341.80 568.35,343.76 572.35,345.73 576.35,347.72 580.35,349.72 584.35,351.73 588.35,353.75 592.35,355.77 596.35,357.81 600.35,359.86 604.35,361.91 608.35,363.97 612.35,366.03 616.35,368.10 620.35,370.17 624.35,372.24 628.35,374.32 632.35,376.39 636.35,378.47 640.35,380.55 644.35,382.62 648.35,384.70 652.35,386.77 656.35,388.83 660.35,390.90 664.35,392.95 668.35,395.00 672.35,397.05 676.35,399.08 680.35,401.11 684.35,403.13 688.35,405.14 692.35,407.13 696.35,409.12 700.35,411.09 704.35,413.05 708.35,415.00 712.35,416.93 716.35,418.84 720.35,420.74 724.35,422.63 728.35,424.49 732.35,426.35 736.35,428.18 740.35,429.99 744.35,431.79 748.35,433.57 752.35,435.33 756.35,437.07 760.35,438.78 764.35,440.48 768.35,442.16 772.35,443.81 776.35,445.44 780.35,447.05 784.35,448.63 788.35,450.19 792.35,451.73 796.35,453.25 800.00,454.62 801.00,454.99 802.00,455.37 803.00,455.74 804.00,456.12 805.00,456.49 806.00,456.87 807.00,457.25 808.00,457.62 809.00,458.00 810.00,458.38 811.00,458.76 812.00,459.14 813.00,459.52 814.00,459.90 815.00,460.29 816.00,460.67 817.00,461.06 818.00,461.45 819.00,461.84 820.00,462.23 821.00,462.63 822.00,463.03 823.00,463.43 824.00,463.83 825.00,464.24 826.00,464.65 827.00,465.06 828.00,465.47 829.00,465.89 830.00,466.31 831.00,466.74 832.00,467.17 833.00,467.60 834.00,468.04 835.00,468.49 836.00,468.95 837.00,469.41 838.00,469.89 839.00,470.38 840.00,470.88 841.00,471.39 842.00,471.92 843.00,472.46 844.00,473.01 845.00,473.59 846.00,474.18 847.00,474.79 848.00,475.42 849.00,476.07 850.00,476.74 851.00,477.43 852.00,478.15 853.00,478.88 854.00,479.64 855.00,480.41 856.00,481.21 857.00,482.02 858.00,482.84 859.00,483.69 860.00,484.55 861.00,485.42 862.00,486.31 863.00,487.21 864.00,488.12 865.00,489.04 866.00,489.97 867.00,490.92 868.00,491.87 869.00,492.83 870.00,493.81 871.00,494.79 872.00,495.79 873.00,496.81 874.00,497.83 875.00,498.87 876.00,499.93 877.00,501.00" fill="none" stroke="#A0329C" stroke-width="3" stroke-linejoin="round"/>
<polyline points="92.35,189.44 96.35,190.84 100.35,192.22 104.35,193.58 108.35,194.93 112.35,196.26 116.35,197.57 120.35,198.86 124.35,200.14 128.35,201.40 132.35,202.65 136.35,203.88 140.35,205.10 144.35,206.31 148.35,207.50 152.35,208.68 156.35,209.85 160.35,211.00 164.35,212.15 168.35,213.28 172.35,214.41 176.35,215.52 180.35,216.63 184.35,217.73 188.35,218.82 192.35,219.90 196.35,220.98 200.35,222.05 204.35,223.11 208.35,224.17 212.35,225.22 216.35,226.27 220.35,227.32 224.35,228.36 228.35,229.40 232.35,230.44 236.35,231.47 240.35,232.51 244.35,233.54 248.35,234.57 252.35,235.61 256.35,236.64 260.35,237.68 264.35,238.72 268.35,239.76 272.35,240.80 276.35,241.84 280.35,242.89 284.35,243.94 288.35,245.00 292.35,246.06 296.35,247.13 300.35,248.20 304.35,249.28 308.35,250.36 312.35,251.45 316.35,252.55 320.35,253.66 324.35,254.77 328.35,255.89 332.35,257.02 336.35,258.16 340.35,259.31 344.35,260.47 348.35,261.64 352.35,262.83 356.35,264.02 360.35,265.22 364.35,266.44 368.35,267.67 372.35,268.92 376.35,270.17 380.35,271.44 384.35,272.73 388.35,274.03 392.35,275.35 396.35,276.68 400.35,278.02 404.35,279.39 408.35,280.77 412.35,282.17 416.35,283.58 420.35,285.01 424.35,286.46 428.35,287.93 432.35,289.41 436.35,290.91 440.35,292.43 444.35,293.96 448.35,295.52 452.35,297.09 456.35,298.68 460.35,300.29 464.35,301.92 468.35,303.56 472.35,305.22 476.35,306.91 480.35,308.61 484.35,310.33 488.35,312.07 492.35,313.83 496.35,315.61 500.35,317.40 504.35,319.22 508.35,321.06 512.35,322.91 516.35,324.79 520.35,326.69 524.35,328.61 528.35,330.54 532.35,332.50 536.35,334.48 540.35,336.48 544.35,338.50 548.35,340.54 552.35,342.60 556.35,344.68 560.35,346.79 564.35,348.91 568.35,351.04 572.35,353.20 576.35,355.37 580.35,357.55 584.35,359.74 588.35,361.95 592.35,364.17 596.35,366.40 600.35,368.64 604.35,370.88 608.35,373.14 612.35,375.39 616.35,377.66 620.35,379.92 624.35,382.19 628.35,384.46 632.35,386.73 636.35,389.00 640.35,391.27 644.35,393.53 648.35,395.79 652.35,398.05 656.35,400.30 660.35,402.54 664.35,404.78 668.35,407.00 672.35,409.22 676.35,411.42 680.35,413.61 684.35,415.79 688.35,417.95 692.35,420.10 696.35,422.23 700.35,424.34 704.35,426.44 708.35,428.52 712.35,430.57 716.35,432.62 720.35,434.64 724.35,436.65 728.35,438.64 732.35,440.62 736.35,442.58 740.35,444.52 744.35,446.46 748.35,448.37 752.35,450.28 756.35,452.17 760.35,454.05 764.35,455.92 768.35,457.77 772.35,459.62 776.35,461.45 780.35,463.27 784.35,465.09 788.35,466.89 792.35,468.69 796.35,470.47 800.00,472.09 801.00,472.53 802.00,472.97 803.00,473.41 804.00,473.85 805.00,474.28 806.00,474.72 807.00,475.15 808.00,475.59 809.00,476.02 810.00,476.45 811.00,476.88 812.00,477.31 813.00,477.74 814.00,478.16 815.00,478.59 816.00,479.01 817.00,479.43 818.00,479.85 819.00,480.27 820.00,480.69 821.00,481.10 822.00,481.52 823.00,481.93 824.00,482.34 825.00,482.75 826.00,483.15 827.00,483.56 828.00,483.96 829.00,484.36 830.00,484.76 831.00,485.16 832.00,485.55 833.00,485.95 834.00,486.35 835.00,486.74 836.00,487.14 837.00,487.55 838.00,487.96 839.00,488.37 840.00,488.79 841.00,489.22 842.00,489.65 843.00,490.10 844.00,490.55 845.00,491.02 846.00,491.49 847.00,491.98 848.00,492.49 849.00,493.00 850.00,493.53 851.00,494.08 852.00,494.65 853.00,495.23 854.00,495.84 855.00,496.47 856.00,497.12 857.00,497.80 858.00,498.51 859.00,499.24 860.00,500.01 861.00,500.81 862.00,501.64 863.00,502.51 864.00,503.41 865.00,504.35 866.00,505.33 867.00,506.35 868.00,507.41 869.00,508.50 870.00,509.61 871.00,510.74 872.00,511.89 873.00,513.04 874.00,514.19 875.00,515.34 876.00,516.48 877.00,517.60" fill="none" stroke="#BDBD34" stroke-width="3" stroke-linejoin="round"/>
<circle cx="162.2" cy="126.1" r="4.75" fill="none" stroke="#3550A8" stroke-width="2.6"/>
<circle cx="246.2" cy="146.5" r="4.75" fill="none" stroke="#3550A8" stroke-width="2.6"/>
<circle cx="329.3" cy="169.2" r="4.75" fill="none" stroke="#3550A8" stroke-width="2.6"/>
<circle cx="411.9" cy="193.5" r="4.75" fill="none" stroke="#3550A8" stroke-width="2.6"/>
<circle cx="577.3" cy="254" r="4.75" fill="none" stroke="#3550A8" stroke-width="2.6"/>
<circle cx="660.5" cy="291" r="4.75" fill="none" stroke="#3550A8" stroke-width="2.6"/>
<circle cx="745.4" cy="328.5" r="4.75" fill="none" stroke="#3550A8" stroke-width="2.6"/>
<circle cx="832.3" cy="376.1" r="4.75" fill="none" stroke="#3550A8" stroke-width="2.6"/>
<circle cx="162.2" cy="130.6" r="4.75" fill="none" stroke="#168a3e" stroke-width="2.6"/>
<circle cx="246.2" cy="154.9" r="4.75" fill="none" stroke="#168a3e" stroke-width="2.6"/>
<circle cx="329.3" cy="183.1" r="4.75" fill="none" stroke="#168a3e" stroke-width="2.6"/>
<circle cx="411.9" cy="224.6" r="4.75" fill="none" stroke="#168a3e" stroke-width="2.6"/>
<circle cx="577.3" cy="296.8" r="4.75" fill="none" stroke="#168a3e" stroke-width="2.6"/>
<circle cx="660.5" cy="334.9" r="4.75" fill="none" stroke="#168a3e" stroke-width="2.6"/>
<circle cx="745.4" cy="369.9" r="4.75" fill="none" stroke="#168a3e" stroke-width="2.6"/>
<circle cx="832.3" cy="406.7" r="4.75" fill="none" stroke="#168a3e" stroke-width="2.6"/>
<polygon points="156.05,179.20 168.35,179.20 162.20,189.85" fill="none" stroke="#EC1C24" stroke-width="2.4" stroke-linejoin="miter"/>
<polygon points="240.05,203.60 252.35,203.60 246.20,214.25" fill="none" stroke="#EC1C24" stroke-width="2.4" stroke-linejoin="miter"/>
<polygon points="323.15,222.30 335.45,222.30 329.30,232.95" fill="none" stroke="#EC1C24" stroke-width="2.4" stroke-linejoin="miter"/>
<polygon points="405.75,249.40 418.05,249.40 411.90,260.05" fill="none" stroke="#EC1C24" stroke-width="2.4" stroke-linejoin="miter"/>
<polygon points="571.15,311.60 583.45,311.60 577.30,322.25" fill="none" stroke="#EC1C24" stroke-width="2.4" stroke-linejoin="miter"/>
<polygon points="654.35,344.30 666.65,344.30 660.50,354.95" fill="none" stroke="#EC1C24" stroke-width="2.4" stroke-linejoin="miter"/>
<polygon points="739.25,376.80 751.55,376.80 745.40,387.45" fill="none" stroke="#EC1C24" stroke-width="2.4" stroke-linejoin="miter"/>
<polygon points="826.15,415.30 838.45,415.30 832.30,425.95" fill="none" stroke="#EC1C24" stroke-width="2.4" stroke-linejoin="miter"/>
<polygon points="156.05,175.30 168.35,175.30 162.20,185.95" fill="none" stroke="#1EBAC0" stroke-width="2.4" stroke-linejoin="miter"/>
<polygon points="240.05,197.70 252.35,197.70 246.20,208.35" fill="none" stroke="#1EBAC0" stroke-width="2.4" stroke-linejoin="miter"/>
<polygon points="323.15,225.60 335.45,225.60 329.30,236.25" fill="none" stroke="#1EBAC0" stroke-width="2.4" stroke-linejoin="miter"/>
<polygon points="405.75,261.80 418.05,261.80 411.90,272.45" fill="none" stroke="#1EBAC0" stroke-width="2.4" stroke-linejoin="miter"/>
<polygon points="571.15,345.10 583.45,345.10 577.30,355.75" fill="none" stroke="#1EBAC0" stroke-width="2.4" stroke-linejoin="miter"/>
<polygon points="654.35,380.30 666.65,380.30 660.50,390.95" fill="none" stroke="#1EBAC0" stroke-width="2.4" stroke-linejoin="miter"/>
<polygon points="739.25,420.40 751.55,420.40 745.40,431.05" fill="none" stroke="#1EBAC0" stroke-width="2.4" stroke-linejoin="miter"/>
<polygon points="826.15,453.50 838.45,453.50 832.30,464.15" fill="none" stroke="#1EBAC0" stroke-width="2.4" stroke-linejoin="miter"/>
<rect x="158.05" y="197.35" width="8.30" height="8.30" fill="none" stroke="#A0329C" stroke-width="2.7"/>
<rect x="242.05" y="221.35" width="8.30" height="8.30" fill="none" stroke="#A0329C" stroke-width="2.7"/>
<rect x="325.15" y="249.45" width="8.30" height="8.30" fill="none" stroke="#A0329C" stroke-width="2.7"/>
<rect x="407.75" y="278.35" width="8.30" height="8.30" fill="none" stroke="#A0329C" stroke-width="2.7"/>
<rect x="573.15" y="355.25" width="8.30" height="8.30" fill="none" stroke="#A0329C" stroke-width="2.7"/>
<rect x="656.35" y="392.85" width="8.30" height="8.30" fill="none" stroke="#A0329C" stroke-width="2.7"/>
<rect x="741.25" y="424.15" width="8.30" height="8.30" fill="none" stroke="#A0329C" stroke-width="2.7"/>
<rect x="828.15" y="459.35" width="8.30" height="8.30" fill="none" stroke="#A0329C" stroke-width="2.7"/>
<rect x="158.05" y="199.55" width="8.30" height="8.30" fill="none" stroke="#BDBD34" stroke-width="2.7"/>
<rect x="242.05" y="222.85" width="8.30" height="8.30" fill="none" stroke="#BDBD34" stroke-width="2.7"/>
<rect x="325.15" y="251.35" width="8.30" height="8.30" fill="none" stroke="#BDBD34" stroke-width="2.7"/>
<rect x="407.75" y="279.35" width="8.30" height="8.30" fill="none" stroke="#BDBD34" stroke-width="2.7"/>
<rect x="573.15" y="361.35" width="8.30" height="8.30" fill="none" stroke="#BDBD34" stroke-width="2.7"/>
<rect x="656.35" y="403.35" width="8.30" height="8.30" fill="none" stroke="#BDBD34" stroke-width="2.7"/>
<rect x="741.25" y="439.85" width="8.30" height="8.30" fill="none" stroke="#BDBD34" stroke-width="2.7"/>
<rect x="828.15" y="478.65" width="8.30" height="8.30" fill="none" stroke="#BDBD34" stroke-width="2.7"/>
</g>
<g style="font-family:'Liberation Sans',Arial,sans-serif;font-weight:bold;font-size:27px" fill="#000">
<text x="92.35" y="685.2" text-anchor="middle">0.5</text>
<text x="179.50" y="685.2" text-anchor="middle">0.55</text>
<text x="266.65" y="685.2" text-anchor="middle">0.6</text>
<text x="353.80" y="685.2" text-anchor="middle">0.65</text>
<text x="440.95" y="685.2" text-anchor="middle">0.7</text>
<text x="528.10" y="685.2" text-anchor="middle">0.75</text>
<text x="615.25" y="685.2" text-anchor="middle">0.8</text>
<text x="702.40" y="685.2" text-anchor="middle">0.85</text>
<text x="789.55" y="685.2" text-anchor="middle">0.9</text>
<text x="87" y="664.20" text-anchor="end">0</text>
<text x="87" y="560.96" text-anchor="end">0.2</text>
<text x="87" y="457.72" text-anchor="end">0.4</text>
<text x="87" y="354.48" text-anchor="end">0.6</text>
<text x="87" y="251.24" text-anchor="end">0.8</text>
<text x="87" y="148.00" text-anchor="end">1</text>
</g>
<text transform="translate(104,22.6) scale(1.008,0.875)" style="font-family:'Liberation Mono','Courier New',monospace;font-weight:bold;font-size:31.5px" fill="#000">EAST#</text>
<text transform="translate(199.25,23.0) scale(1.008,0.93)" style="font-family:'Liberation Mono','Courier New',monospace;font-weight:bold;font-size:31.5px" fill="#000">52340</text>
<text transform="translate(22,410.2) rotate(-90) scale(1,0.886)" style="font-family:'Liberation Mono','Courier New',monospace;font-weight:bold;font-size:31.5px" fill="#000">T</text>
<text transform="translate(38.2,391.1) rotate(-90) scale(1.25,1)" style="font-family:'Liberation Sans',sans-serif;font-size:21px" fill="#000" stroke="#000" stroke-width="0.45">e</text>
<text transform="translate(22,373.4) rotate(-90) scale(0.94,0.886)" style="font-family:'Liberation Mono','Courier New',monospace;font-weight:bold;font-size:31.5px" fill="#000">(keV)</text>
<text x="475.3" y="714.6" style="font-family:'Liberation Serif',serif;font-size:33.5px" fill="#000">ρ</text>
<rect x="186.5" y="443" width="414.5" height="131.2" fill="#fff" stroke="#111" stroke-width="1"/>
<rect x="197.4" y="451.4" width="52" height="31" fill="#B8549E" stroke="rgba(0,0,0,0.62)" stroke-width="1"/>
<rect x="197.4" y="493.1" width="52" height="31" fill="#FBAF66" stroke="rgba(0,0,0,0.62)" stroke-width="1"/>
<rect x="197.4" y="534.8" width="52" height="31" fill="#2B8157" stroke="rgba(0,0,0,0.62)" stroke-width="1"/>
<text transform="translate(0,476.2) scale(0.95,1)" style="font-family:'Liberation Sans',Arial,sans-serif;font-weight:bold;font-size:27.6px" fill="#000"><tspan x="268.74" y="0">I:</tspan><tspan x="301.37" y="0">t=3.20s,</tspan><tspan x="419.37" y="0">ELM</tspan><tspan x="485.37" y="0">(</tspan><tspan x="492.95" y="1.0" style="font-family:'Liberation Serif',serif;font-weight:normal;font-size:29px">δ</tspan><tspan x="507.37" y="0">W</tspan><tspan x="531.58" y="3.8" style="font-family:'Liberation Serif',serif;font-weight:normal;font-size:28.5px">≈</tspan><tspan x="548.84" y="0">7.0kJ)</tspan></text>
<text transform="translate(0,518.1) scale(0.95,1)" style="font-family:'Liberation Sans',Arial,sans-serif;font-weight:bold;font-size:27.6px" fill="#000"><tspan x="268.74" y="0">II:</tspan><tspan x="302.11" y="0">t=3.29s,</tspan><tspan x="419.37" y="0">ELM</tspan><tspan x="485.37" y="0">(</tspan><tspan x="492.95" y="1.0" style="font-family:'Liberation Serif',serif;font-weight:normal;font-size:29px">δ</tspan><tspan x="507.37" y="0">W</tspan><tspan x="531.58" y="3.8" style="font-family:'Liberation Serif',serif;font-weight:normal;font-size:28.5px">≈</tspan><tspan x="548.84" y="0">3.0kJ)</tspan></text>
<text transform="translate(0,559.6) scale(0.95,1)" style="font-family:'Liberation Sans',Arial,sans-serif;font-weight:bold;font-size:27.6px" fill="#000"><tspan x="268.74" y="0">III:</tspan><tspan x="301.47" y="0">t=3.47s,</tspan><tspan x="419.37" y="0">ELM</tspan><tspan x="485.37" y="0">(</tspan><tspan x="492.95" y="1.0" style="font-family:'Liberation Serif',serif;font-weight:normal;font-size:29px">δ</tspan><tspan x="507.37" y="0">W</tspan><tspan x="531.58" y="3.8" style="font-family:'Liberation Serif',serif;font-weight:normal;font-size:28.5px">≈</tspan><tspan x="548.84" y="0">1.5kJ)</tspan></text>
<line x1="684.8" y1="225.2" x2="629.56" y2="266.44" stroke="#B8549E" stroke-width="1.2"/><polygon points="619.3,274.1 629.72,257.96 629.56,266.44 637.73,268.70" fill="#B8549E"/>
<line x1="349.1" y1="341.7" x2="452.64" y2="277.08" stroke="#FBAF66" stroke-width="1.2"/><polygon points="463.5,270.3 451.78,285.51 452.64,277.08 444.68,274.15" fill="#FBAF66"/>
<line x1="806.9" y1="525.3" x2="786.28" y2="472.81" stroke="#2B8157" stroke-width="1.2"/><polygon points="781.6,460.9 794.42,475.20 786.28,472.81 781.95,480.10" fill="#2B8157"/>
<text x="688.7" y="219.7" text-anchor="middle" style="font-family:'Liberation Sans',Arial,sans-serif;font-weight:bold;font-size:25px" fill="#B8549E">I</text>
<text x="342.7" y="365" text-anchor="middle" style="font-family:'Liberation Sans',Arial,sans-serif;font-weight:bold;font-size:25px" fill="#FBAF66">II</text>
<text x="807" y="548.6" text-anchor="middle" style="font-family:'Liberation Sans',Arial,sans-serif;font-weight:bold;font-size:25px" fill="#2B8157">III</text>
</svg>
</body></html>
